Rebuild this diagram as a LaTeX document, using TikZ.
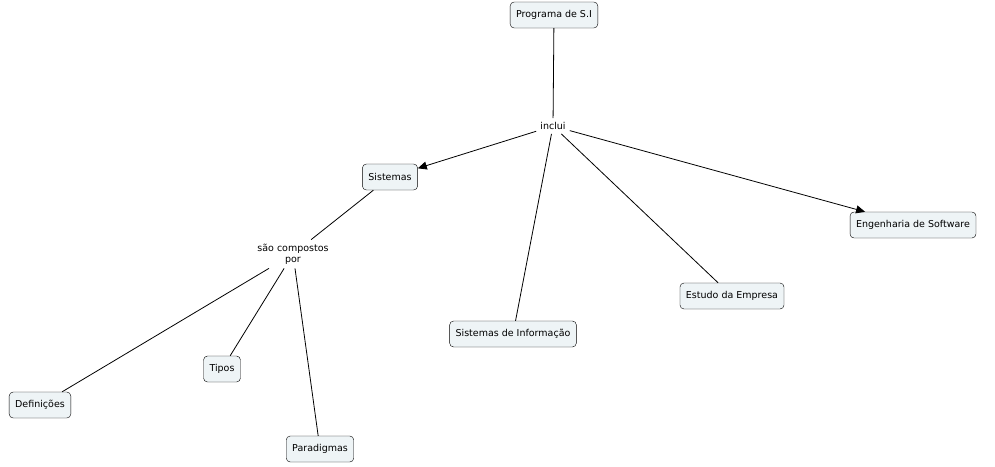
\documentclass[tikz,border=0pt]{standalone}
\usepackage{fontspec}
\setmainfont{DejaVu Sans}
\usetikzlibrary{arrows.meta,positioning}
\definecolor{boxfill}{HTML}{EEF4F6}
\tikzstyle{concept}=[draw=black, fill=boxfill, rounded corners=4pt, inner xsep=6pt, minimum height=26pt, font=\fontsize{9.5}{11}\selectfont]
\tikzstyle{link}=[inner sep=4pt, align=center, font=\fontsize{9.5}{11}\selectfont]
\tikzstyle{l1}=[line width=0.8pt]
\tikzstyle{arr}=[l1, -{Triangle[length=9pt,width=8pt]}]

\begin{document}
\begin{tikzpicture}[x=1pt, y=-1pt]
    \useasboundingbox (0,0) rectangle (995,466);
    \node[concept] at (554,15) (prog) {Programa de S.I};
    \node[link] at (553,126) (inclui) {inclui};
    \node[concept] at (390,177) (sist) {Sistemas};
    \node[concept] at (913,225) (eng) {Engenharia de Software};
    \node[concept] at (732,296) (estudo) {Estudo da Empresa};
    \node[concept] at (513,334) (si) {Sistemas de Informação};
    \node[link] at (293,254) (comp) {são compostos\\por};
    \node[concept] at (40,405) (def) {Definições};
    \node[concept] at (222,369) (tipos) {Tipos};
    \node[concept] at (320,449) (para) {Paradigmas};

    \draw[l1] (prog) -- (inclui);
    \draw[arr] (inclui) -- (sist);
    \draw[arr] (inclui) -- (eng);
    \draw[l1] (inclui) -- (si);
    \draw[l1] (inclui) -- (estudo);
    \draw[l1] (sist) -- (comp);
    \draw[l1] (comp) -- (def);
    \draw[l1] (comp) -- (tipos);
    \draw[l1] (comp) -- (para);
\end{tikzpicture}
\end{document}
